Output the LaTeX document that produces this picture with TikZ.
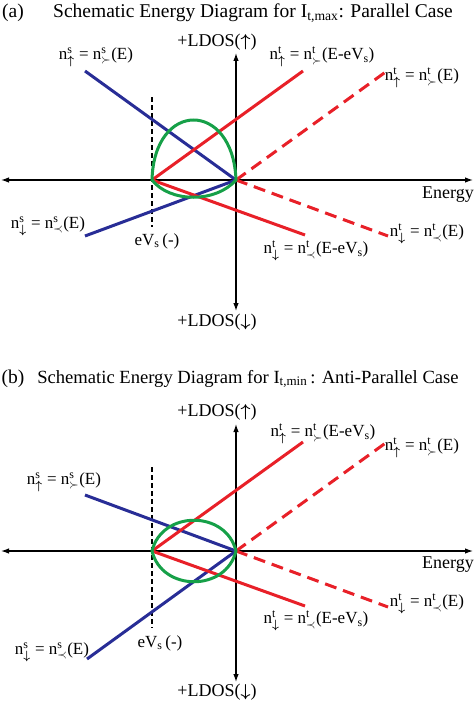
\documentclass[tikz,border=0pt]{standalone}
\usepackage{amsmath}
\usepackage{fontspec}
\setmainfont{Liberation Serif}
\usetikzlibrary{arrows.meta}

\definecolor{blu}{RGB}{40,45,150}
\definecolor{rosso}{RGB}{232,32,40}
\definecolor{verde}{RGB}{22,160,72}

% densita' di stati con freccia di spin
\newcommand{\nsu}[1]{n$^{\text{#1}}_{\boldsymbol{\uparrow}}$}
\newcommand{\nsd}[1]{n$^{\text{#1}}_{\boldsymbol{\downarrow}}$}
\newcommand{\nqu}[1]{n$^{\text{#1}}_{\succ}$}
\newcommand{\nqd}[1]{n$^{\text{#1}}_{\prec}$}

\begin{document}
\begin{tikzpicture}[
    x=1pt,y=-1pt,
    font=\fontsize{18}{20}\selectfont,
    asse/.style={line width=1.2pt,-{Latex[length=8pt,width=5.5pt]}},
    asseh/.style={line width=1.2pt,{Latex[length=8pt,width=5.5pt]}-{Latex[length=8pt,width=5.5pt]}},
    soglia/.style={line width=1.2pt,dash pattern=on 5pt off 3pt},
    linea/.style={line width=3pt},
    tratto/.style={line width=3pt,dash pattern=on 12pt off 7pt},
    curva/.style={line width=3pt,draw=verde},
    etichetta/.style={inner sep=0pt},
    densita/.style={inner sep=0pt,font=\fontsize{17}{19}\selectfont},
    titolo/.style={inner sep=0pt,font=\fontsize{19.5}{22}\selectfont}]

  \useasboundingbox (0,0) rectangle (474,701);

  % ---- pannello (a): caso parallelo ------------------------------------------
  \node[titolo] (lettA) at (13,13) {(a)};
  \node[titolo] (titA) at (253,13) {Schematic Energy Diagram for I$_{\text{t,max}}$: Parallel Case};
  \begin{scope}[shift={(0,0)}]
    \coordinate (A) at (152,180);
    \coordinate (B) at (236,180);
    \coordinate (xsx) at (1,180);
    \coordinate (xdx) at (473,180);
    \coordinate (ysu) at (236,53);
    \coordinate (ygiu) at (236,311);
    \coordinate (dsu) at (152,97);
    \coordinate (dgiu) at (152,227);
    \coordinate (bsu) at (85,71);
    \coordinate (bgiu) at (85,236);
    \coordinate (rsu) at (303,71);
    \coordinate (rgiu) at (305,235);
    \coordinate (tsu) at (387,71);
    \coordinate (tgiu) at (388,236);
    \draw[asseh] (xsx) -- (xdx);
    \draw[asse] (B) -- (ysu);
    \draw[asse] (B) -- (ygiu);
    \draw[soglia] (dsu) -- (dgiu);
    \draw[linea,blu] (bsu) -- (B);
    \draw[linea,blu] (bgiu) -- (B);
    \draw[linea,rosso] (A) -- (rsu);
    \draw[linea,rosso] (A) -- (rgiu);
    \draw[tratto,rosso] (B) -- (tsu);
    \draw[tratto,rosso] (B) -- (tgiu);
    % corrente: prodotto delle densita'
    \draw[curva] (A) .. controls (154,100) and (233,100) .. (B)
                     .. controls (216,203) and (170,203) .. (A) -- cycle;
    \node[etichetta] (ldosu) at (217,42) {+LDOS($\boldsymbol{\uparrow}$)};
    \node[etichetta] (ldosd) at (217,322) {+LDOS($\boldsymbol{\downarrow}$)};
    \node[etichetta,anchor=east] (ener) at (474,195) {Energy};
    \node[densita] (eV) at (157,241) {eV$_{\text{s}}$\,(-)};
    \node[densita] (lsu) at (96,57) {\nsu{s} = \nqu{s}(E)};
    \node[densita] (lsd) at (48,226) {\nsd{s} = \nqd{s}(E)};
    \node[densita] (ltu) at (322,57) {\nsu{t} = \nqu{t}(E-eV$_{\text{s}}$)};
    \node[densita] (lt0u) at (422,78) {\nsu{t} = \nqu{t}(E)};
    \node[densita] (lt0d) at (427,234) {\nsd{t} = \nqd{t}(E)};
    \node[densita] (ltd) at (316,251) {\nsd{t} = \nqd{t}(E-eV$_{\text{s}}$)};
  \end{scope}

  % ---- pannello (b): caso antiparallelo ---------------------------------------
  \node[titolo] (lettB) at (13,379) {(b)};
  \node[titolo,font=\fontsize{18.6}{21}\selectfont] (titB) at (248,379) {Schematic Energy Diagram for I$_{\text{t,min}}$\,: Anti-Parallel Case};
  \begin{scope}[shift={(0,371)}]
    \coordinate (A) at (152,180);
    \coordinate (B) at (236,180);
    \coordinate (xsx) at (1,180);
    \coordinate (xdx) at (473,180);
    \coordinate (ysu) at (236,53);
    \coordinate (ygiu) at (236,311);
    \coordinate (dsu) at (152,96);
    \coordinate (dgiu) at (152,257);
    \coordinate (bsu) at (85,124);
    \coordinate (bgiu) at (87,288);
    \coordinate (rsu) at (303,71);
    \coordinate (rgiu) at (305,235);
    \coordinate (tsu) at (387,71);
    \coordinate (tgiu) at (388,236);
    \draw[asseh] (xsx) -- (xdx);
    \draw[asse] (B) -- (ysu);
    \draw[asse] (B) -- (ygiu);
    \draw[soglia] (dsu) -- (dgiu);
    \draw[linea,blu] (bsu) -- (B);
    \draw[linea,blu] (bgiu) -- (B);
    \draw[linea,rosso] (A) -- (rsu);
    \draw[linea,rosso] (A) -- (rgiu);
    \draw[tratto,rosso] (B) -- (tsu);
    \draw[tratto,rosso] (B) -- (tgiu);
    % lente simmetrica
    \draw[curva] (A) .. controls (162,139) and (226,139) .. (B)
                     .. controls (226,221) and (162,221) .. (A) -- cycle;
    \node[etichetta] (ldosu) at (217,41) {+LDOS($\boldsymbol{\uparrow}$)};
    \node[etichetta] (ldosd) at (217,321) {+LDOS($\boldsymbol{\downarrow}$)};
    \node[etichetta,anchor=east] (ener) at (474,194) {Energy};
    \node[densita] (eV) at (160,272) {eV$_{\text{s}}$\,(-)};
    \node[densita] (lsu) at (64,111) {\nsu{s} = \nqu{s}(E)};
    \node[densita] (lsd) at (52,281) {\nsd{s} = \nqd{s}(E)};
    \node[densita] (ltu) at (323,63) {\nsu{t} = \nqu{t}(E-eV$_{\text{s}}$)};
    \node[densita] (lt0u) at (422,77) {\nsu{t} = \nqu{t}(E)};
    \node[densita] (lt0d) at (427,233) {\nsd{t} = \nqd{t}(E)};
    \node[densita] (ltd) at (316,250) {\nsd{t} = \nqd{t}(E-eV$_{\text{s}}$)};
  \end{scope}

\end{tikzpicture}
\end{document}
